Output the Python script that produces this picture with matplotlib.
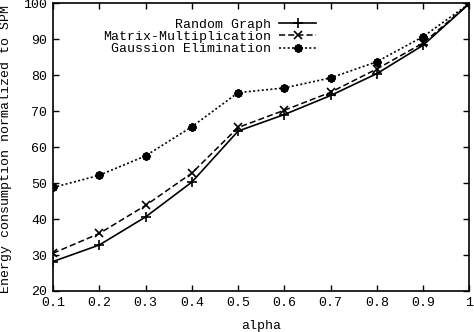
import numpy as np
import matplotlib
matplotlib.use('Agg')
import matplotlib.pyplot as plt

# normalized energy values per alpha
alpha = [0.1, 0.2, 0.3, 0.4, 0.5, 0.6, 0.7, 0.8, 0.9, 1.0]
random_graph = [28.2, 32.8, 40.6, 50.3, 64.5, 69.1, 74.4, 80.5, 88.4, 100]
matrix_mult = [30.5, 36.0, 43.8, 52.8, 65.5, 70.3, 75.3, 81.8, 89.0, 100]
gauss_elim = [48.8, 52.2, 57.6, 65.7, 75.2, 76.5, 79.3, 83.8, 90.8, 100]

x_ticks = [0.1, 0.2, 0.3, 0.4, 0.5, 0.6, 0.7, 0.8, 0.9, 1.0]
x_tick_labels = ['0.1', '0.2', '0.3', '0.4', '0.5', '0.6', '0.7', '0.8', '0.9', '1']
y_ticks = [20, 30, 40, 50, 60, 70, 80, 90, 100]

labels = ['Random Graph', 'Matrix-Multiplication', 'Gaussion Elimination']

plt.rcParams['font.family'] = ['Liberation Mono', 'DejaVu Sans Mono']

fig = plt.figure(figsize=(4.74, 3.32), dpi=100)
ax = fig.add_axes([0.1118, 0.1235, 0.8787, 0.866])

width = max(len(s) for s in labels)
lbl = [s.rjust(width) for s in labels]

ax.plot(alpha, random_graph, color='black', lw=1.2, ls='-',
        marker='+', ms=7, mew=1.2, label=lbl[0])
ax.plot(alpha, matrix_mult, color='black', lw=1.1, ls=(0, (4, 2)),
        marker='x', ms=5.5, mew=1.2, label=lbl[1])
ax.plot(alpha, gauss_elim, color='black', lw=1.2, ls=(0, (1.2, 1.4)),
        marker=(8, 2, 0), ms=6, mew=1.6, label=lbl[2])

ax.set_xlim(0.1, 1.0)
ax.set_ylim(20, 100)
ax.set_xticks(x_ticks)
ax.set_xticklabels(x_tick_labels)
ax.set_yticks(y_ticks)
ax.tick_params(direction='in', top=True, right=True, length=4, width=1,
               labelsize=9.5, pad=4)
for sp in ax.spines.values():
    sp.set_linewidth(1.2)

ax.set_xlabel('alpha', fontsize=9.5, labelpad=8)
fig.text(0.012, 1 - 293 / 332, 'Energy consumption normalized to SPM',
         rotation=90, ha='center', va='bottom', fontsize=9.5)

leg = ax.legend(loc='upper right', bbox_to_anchor=(0.648, 0.971), frameon=False,
                markerfirst=False, fontsize=9.5, handlelength=2.8,
                handletextpad=0.6, labelspacing=0.0, borderpad=0)

fig.savefig('out.png', dpi=100)
